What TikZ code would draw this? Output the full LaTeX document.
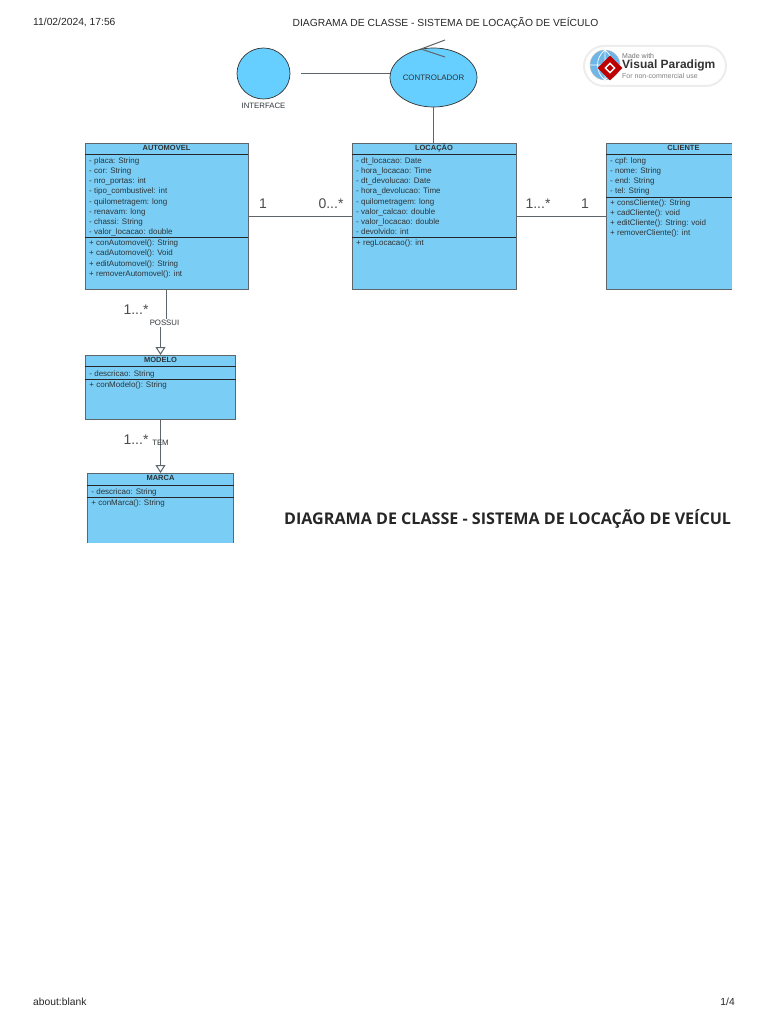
\documentclass[tikz,border=0pt]{standalone}
\usepackage{fontspec}
\setmainfont{Liberation Sans}
\newfontfamily\bigtitlefont{Open Sans}
\usepackage{xcolor}
\usetikzlibrary{shapes.geometric,arrows.meta,positioning}
\usetikzlibrary{calc}
\definecolor{classblue}{HTML}{7ACEF5}
\definecolor{usecaseblue}{HTML}{66CFFF}
\definecolor{linegray}{HTML}{5F666B}
\definecolor{textdark}{HTML}{2E3438}
\definecolor{globeblue}{HTML}{6FB6E8}
\tikzstyle{classbox} = [rectangle, draw=linegray, fill=classblue, line width=1pt,
    inner sep=0pt, outer sep=0pt]
\tikzstyle{classtitle} = [inner sep=0pt, text=textdark, font=\fontsize{7.5}{9}\selectfont\bfseries]
\tikzstyle{members} = [anchor=north west, align=left, inner sep=0pt, text=textdark,
    font=\fontsize{8}{10.2}\selectfont]
\tikzstyle{sepline} = [draw=black!85, line width=0.8pt]
\tikzstyle{line} = [draw=linegray, line width=1pt]
\tikzstyle{inherit} = [draw=linegray, line width=1pt, -{Triangle[open, length=8pt, width=10pt]}]
\tikzstyle{mult} = [inner sep=0pt, text=black!70, font=\fontsize{14}{16}\selectfont]
\tikzstyle{small} = [inner sep=1pt, text=textdark, font=\fontsize{7.8}{9}\selectfont]
\tikzstyle{usecase} = [ellipse, draw=black!80, fill=usecaseblue, line width=0.7pt, inner sep=0pt, outer sep=0pt]
\tikzstyle{page} = [inner sep=0pt, text=black!85, font=\fontsize{10.3}{12}\selectfont]

\begin{document}
\begin{tikzpicture}[x=1pt, y=-1pt]
    \useasboundingbox (0,0) rectangle (768,1024);

    % Page header and footer
    \node [page, anchor=west] (stamp) at (33,22.7) {11/02/2024, 17:56};
    \node [page] (pagetitle) at (445.5,22.7) {DIAGRAMA DE CLASSE - SISTEMA DE LOCAÇÃO DE VEÍCULO};
    \node [page, anchor=west] (aboutblank) at (33,1001.7) {about:blank};
    \node [page, anchor=east] (pagenum) at (735,1001.7) {1/4};

    % Logo
    \node [rectangle, draw=black!7, line width=2pt, fill=white, rounded corners=20pt,
        minimum width=142pt, minimum height=40pt] (logo) at (655,66) {};
    \node [circle, draw=black!25, fill=globeblue, minimum size=30pt, inner sep=0pt] (globe) at (605,65) {};
    \draw [white, line width=0.7pt] (globe.north) -- (globe.south) (globe.west) -- (globe.east)
        (globe.north) .. controls (595,58) and (595,72) .. (globe.south)
        (globe.north) .. controls (615,58) and (615,72) .. (globe.south);
    \node [diamond, fill=red!75!black, minimum size=25pt, inner sep=0pt] (logomark) at (610,68) {};
    \node [diamond, draw=white, line width=1.4pt, minimum size=10pt, inner sep=0pt] (logoinner) at (610,68) {};
    \node [anchor=west, inner sep=0pt, text=black!55, font=\fontsize{7}{8}\selectfont] (madewith) at (622,56) {Made with};
    \node [anchor=west, inner sep=0pt, text=black!80, font=\fontsize{12}{13}\selectfont\bfseries] (vpname) at (622,65.5) {Visual Paradigm};
    \node [anchor=west, inner sep=0pt, text=black!50, font=\fontsize{7}{8}\selectfont] (vpnote) at (622,76) {For non-commercial use};

    % Boundary and controller
    \node [usecase, minimum width=53pt, minimum height=51pt] (interface) at (263.5,73.5) {};
    \node [small, below=3pt of interface] (interfacelabel) {INTERFACE};
    \node [usecase, minimum width=87pt, minimum height=59pt, font=\fontsize{7.9}{9}\selectfont, text=textdark] (controlador) at (433.5,77.5) {CONTROLADOR};
    \coordinate (ifaceend) at (301,73.5);
    \coordinate (ctrlapex) at (421,49);
    \coordinate (ctrlup) at (445,40);
    \coordinate (ctrldown) at (445,57);

    % Classes
    \node [classbox, minimum width=163pt, minimum height=146.5pt] (automovel) at (166.5,216.5) {};
    \node [classbox, right=104pt of automovel, minimum width=164pt, minimum height=146.5pt] (locacao) {};
    \node [rectangle, fill=classblue, inner sep=0pt, outer sep=0pt, right=90pt of locacao, minimum width=126pt, minimum height=146.5pt] (cliente) {};
    \draw [draw=linegray, line width=1pt] (cliente.north east) -- (cliente.north west) -- (cliente.south west) -- (cliente.south east);
    \node [classbox, minimum width=150.5pt, minimum height=64pt] (modelo) at (160.5,387) {};
    \node [rectangle, fill=classblue, inner sep=0pt, outer sep=0pt, minimum width=146.5pt, minimum height=70pt] (marca) at (160.5,508) {};
    \draw [draw=linegray, line width=1pt] (marca.south west) -- (marca.north west) -- (marca.north east) -- (marca.south east);

    % Automovel
    \node [classtitle] (automoveltitle) at ($(automovel.north)+(0,5)$) {AUTOMOVEL};
    \node [members] (automovelattrs) at ($(automovel.north west)+(4,14)$) {- placa: String\\- cor: String\\- nro\_portas: int\\- tipo\_combustivel: int\\- quilometragem: long\\- renavam: long\\- chassi: String\\- valor\_locacao: double};
    \node [members] (automovelops) at ($(automovel.north west)+(4,96.5)$) {+ conAutomovel(): String\\+ cadAutomovel(): Void\\+ editAutomovel(): String\\+ removerAutomovel(): int};
    \draw [sepline] ($(automovel.north west)+(0,11)$) -- ($(automovel.north east)+(0,11)$);
    \draw [sepline] ($(automovel.north west)+(0,94.5)$) -- ($(automovel.north east)+(0,94.5)$);

    % Locacao
    \node [classtitle] (locacaotitle) at ($(locacao.north)+(0,4.5)$) {LOCAÇÃO};
    \node [members] (locacaoattrs) at ($(locacao.north west)+(4,14)$) {- dt\_locacao: Date\\- hora\_locacao: Time\\- dt\_devolucao: Date\\- hora\_devolucao: Time\\- quilometragem: long\\- valor\_calcao: double\\- valor\_locacao: double\\- devolvido: int};
    \node [members] (locacaoops) at ($(locacao.north west)+(4,96.5)$) {+ regLocacao(): int};
    \draw [sepline] ($(locacao.north west)+(0,11)$) -- ($(locacao.north east)+(0,11)$);
    \draw [sepline] ($(locacao.north west)+(0,94.5)$) -- ($(locacao.north east)+(0,94.5)$);

    % Cliente
    \node [classtitle] (clientetitle) at ($(cliente.north)+(14.5,4.5)$) {CLIENTE};
    \node [members] (clienteattrs) at ($(cliente.north west)+(4,14)$) {- cpf: long\\- nome: String\\- end: String\\- tel: String};
    \node [members] (clienteops) at ($(cliente.north west)+(4,56)$) {+ consCliente(): String\\+ cadCliente(): void\\+ editCliente(): String: void\\+ removerCliente(): int};
    \draw [sepline] ($(cliente.north west)+(0,11)$) -- ($(cliente.north east)+(0,11)$);
    \draw [sepline] ($(cliente.north west)+(0,54)$) -- ($(cliente.north east)+(0,54)$);

    % Modelo
    \node [classtitle] (modelotitle) at ($(modelo.north)+(0,5)$) {MODELO};
    \node [members] (modeloattrs) at ($(modelo.north west)+(4,16)$) {- descricao: String};
    \node [members] (modeloops) at ($(modelo.north west)+(4,27)$) {+ conModelo(): String};
    \draw [sepline] ($(modelo.north west)+(0,11)$) -- ($(modelo.north east)+(0,11)$);
    \draw [sepline] ($(modelo.north west)+(0,24.5)$) -- ($(modelo.north east)+(0,24.5)$);

    % Marca
    \node [classtitle] (marcatitle) at ($(marca.north)+(0,5)$) {MARCA};
    \node [members] (marcaattrs) at ($(marca.north west)+(4,15)$) {- descricao: String};
    \node [members] (marcaops) at ($(marca.north west)+(4,26.5)$) {+ conMarca(): String};
    \draw [sepline] ($(marca.north west)+(0,12)$) -- ($(marca.north east)+(0,12)$);
    \draw [sepline] ($(marca.north west)+(0,24.5)$) -- ($(marca.north east)+(0,24.5)$);

    % Connections
    \path [line] (ifaceend) -- (ifaceend -| controlador.west);
    \path [line] (ctrlup) -- (ctrlapex) -- (ctrldown);
    \path [line] (controlador.south) -- (controlador.south |- locacao.north);
    \path [line] (automovel.east |- 0,216.5) -- (locacao.west |- 0,216.5);
    \path [line] (locacao.east |- 0,216.5) -- (cliente.west |- 0,216.5);
    \coordinate (possuibend) at (166,323);
    \path [line] (automovel.south -| possuibend) -- (possuibend) -- (modelo.north |- possuibend);
    \path [inherit] (modelo.north |- possuibend) -- (modelo.north);
    \path [inherit] (modelo.south) -- (marca.north);

    % Labels
    \node [small, fill=white] (possui) at (164.5,323) {POSSUI};
    \node [small] (tem) at (160.5,442.5) {TEM};
    \node [mult] (multa) at (263,203.5) {1};
    \node [mult] (multb) at (331,203.5) {0...*};
    \node [mult] (multc) at (538,203.5) {1...*};
    \node [mult] (multd) at (585,203.5) {1};
    \node [mult] (multe) at (136,309.5) {1...*};
    \node [mult] (multf) at (136,439.5) {1...*};

    % Big title
    \node [anchor=west, inner sep=0pt, text=black!85, font=\bigtitlefont\fontsize{16.1}{18}\selectfont\bfseries] (bigtitle) at (284,519) {DIAGRAMA DE CLASSE - SISTEMA DE LOCAÇÃO DE VEÍCUL};
\end{tikzpicture}
\end{document}
